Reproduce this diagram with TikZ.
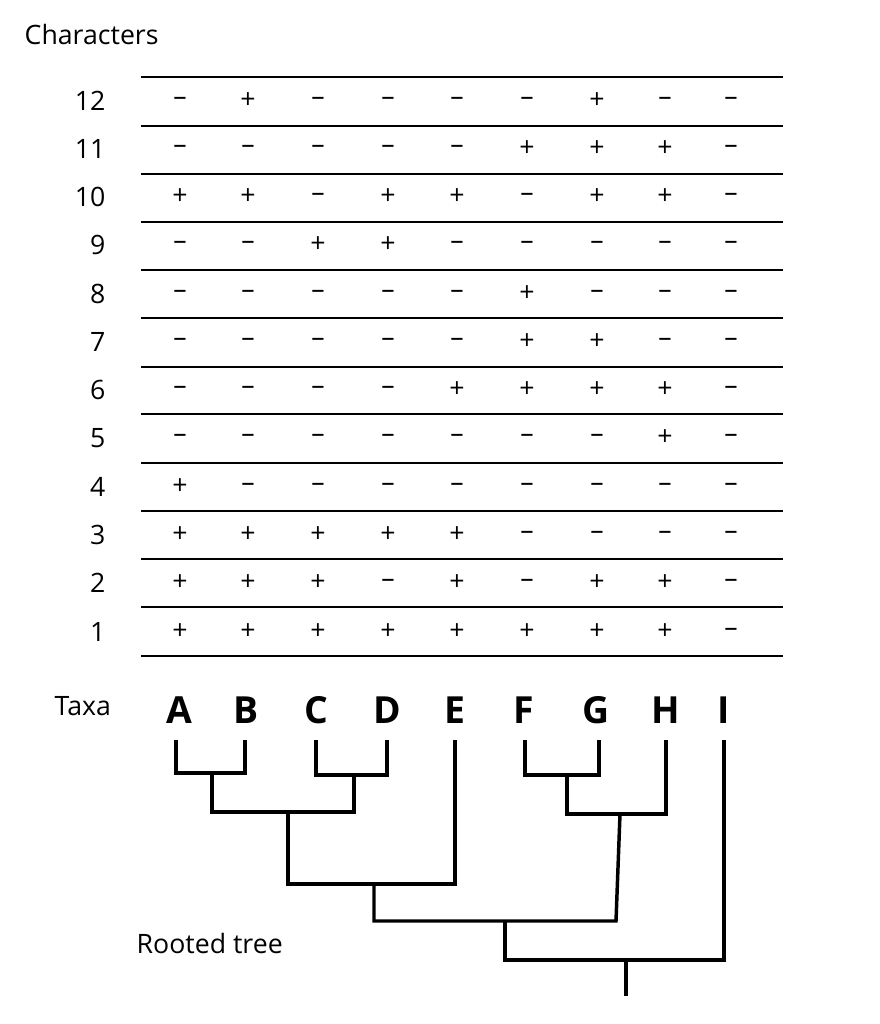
\documentclass[tikz,border=0pt]{standalone}
\usepackage{fontspec}
\setmainfont{Open Sans}
\begin{document}
\begin{tikzpicture}[x=0.75pt,y=-0.75pt,
  rule/.style={line width=2.2pt},
  br/.style={line width=2.6pt},
  cell/.style={font=\fontsize{20}{21}\selectfont},
  rowlab/.style={font=\fontsize{20}{21}\selectfont,anchor=east},
  taxon/.style={font=\bfseries\fontsize{28}{29}\selectfont},
  lab/.style={font=\fontsize{20}{21}\selectfont,anchor=west}]
\useasboundingbox (0,0) rectangle (879,1024);
\node[lab] (chars) at (20,35) {Characters};
\foreach \y in {77,126,174,222,270,318,367,414,463,511,559,607,656}
  \draw[rule] (141,\y) -- (783,\y);
\def\cols{{180,248,318,388,457,527,597,665,731}}
\foreach \r/\y/\vals in {
 12/101/{m,+,m,m,m,m,+,m,m},
 11/149/{m,m,m,m,m,+,+,+,m},
 10/197/{+,+,m,+,+,m,+,+,m},
 9/245/{m,m,+,+,m,m,m,m,m},
 8/294/{m,m,m,m,m,+,m,m,m},
 7/342/{m,m,m,m,m,+,+,m,m},
 6/390/{m,m,m,m,+,+,+,+,m},
 5/438/{m,m,m,m,m,m,m,+,m},
 4/487/{+,m,m,m,m,m,m,m,m},
 3/535/{+,+,+,+,+,m,m,m,m},
 2/583/{+,+,+,m,+,m,+,+,m},
 1/632/{+,+,+,+,+,+,+,+,m}}{
  \node[rowlab] (r\r) at (110,\y) {\r};
  \foreach \v [count=\i from 0] in \vals {
    \pgfmathsetmacro\cx{\cols[\i]}
    \if m\v
      \node[cell] (c\r-\i) at (\cx,\y) {–};
    \else
      \node[cell] (c\r-\i) at (\cx,\y) {+};
    \fi
  }
}
\node[lab] (taxa) at (50,706) {Taxa};
\foreach \n/\x in {A/179,B/246,C/316,D/387,E/455,F/524,G/596,H/666,I/724}
  \node[taxon] (\n) at (\x,710) {\n};
\draw[br] (176,740) |- (245,773) -- (245,740);
\draw[br] (316,740) |- (387,775) -- (387,740);
\draw[br] (212,773) |- (354,812) -- (354,775);
\draw[br] (288,812) |- (455,884) -- (455,740);
\draw[br] (525,740) |- (599,775) -- (599,740);
\draw[br] (567,775) |- (666,814) -- (666,740);
\draw[br] (374,884) |- (616,921) -- (620,814);
\draw[br] (505,921) |- (724,960) -- (724,740);
\draw[br] (626,960) -- (626,996);
\node[lab] (rt) at (132,943) {Rooted tree};
\end{tikzpicture}
\end{document}
